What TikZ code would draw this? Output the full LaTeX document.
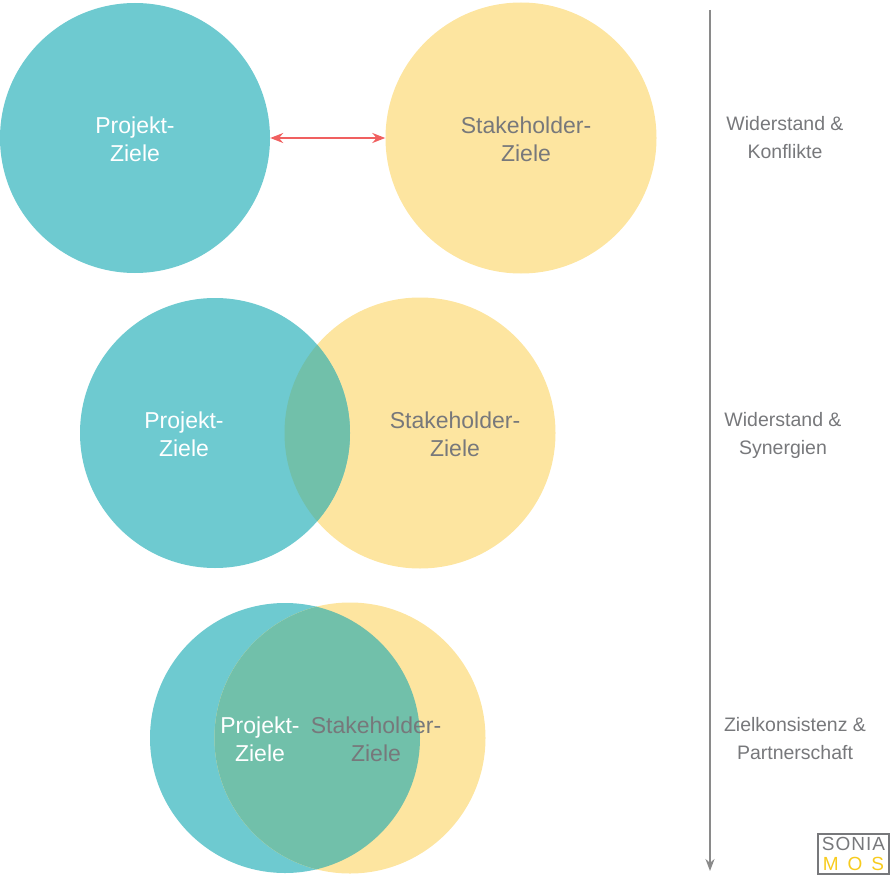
\documentclass[tikz,border=0pt]{standalone}
\usepackage{fontspec}
\setmainfont{Liberation Sans}
\usetikzlibrary{arrows.meta}
\definecolor{teal}{HTML}{6ECAD0}
\definecolor{sun}{HTML}{FDE5A0}
\definecolor{mix}{HTML}{71C0AA}
\definecolor{txtgray}{HTML}{77787B}
\definecolor{linegray}{HTML}{8A8A8A}
\definecolor{logoyellow}{HTML}{F7CB1E}
\tikzset{
  proj/.style={circle, fill=teal, minimum size=270pt, inner sep=0pt},
  stake/.style={circle, fill=sun, minimum size=271pt, inner sep=0pt},
  ptext/.style={text=white, align=center, font=\fontsize{23}{28}\selectfont},
  stext/.style={text=txtgray, align=center, font=\fontsize{23}{28}\selectfont},
  side/.style={text=txtgray, align=center, font=\fontsize{19.5}{28}\selectfont}
}
\begin{document}
\begin{tikzpicture}[x=1pt, y=-1pt]
  \useasboundingbox (0,0) rectangle (891,880);
  % row 1
  \node (P1) [proj] at (135,138) {};
  \node (S1) [stake] at (521,138) {};
  \node [ptext] at (135,139) {Projekt-\\Ziele};
  \node [stext] at (526,139) {Stakeholder-\\Ziele};
  \draw [{Stealth[length=13pt,width=10pt]}-{Stealth[length=13pt,width=10pt]}, draw={rgb,255:red,240;green,96;blue,96}, line width=2pt] (P1.east) -- (S1.west);
  % row 2
  \node (S2) [stake] at (420,433) {};
  \node (P2) [proj] at (215,433) {};
  \begin{scope}
    \clip (420,433) circle (135.5);
    \fill [mix] (215,433) circle (135);
  \end{scope}
  \node [ptext] at (184,434) {Projekt-\\Ziele};
  \node [stext] at (455,434) {Stakeholder-\\Ziele};
  % row 3
  \node (P3) [proj] at (285,738) {};
  \node (S3) [stake] at (350,738) {};
  \begin{scope}
    \clip (350,738) circle (135.5);
    \fill [mix] (285,738) circle (135);
  \end{scope}
  \node [ptext] at (260,739) {Projekt-\\Ziele};
  \node [stext] at (376,739) {Stakeholder-\\Ziele};
  % scale
  \coordinate (top) at (710,10);
  \coordinate (bottom) at (710,871);
  \draw [linegray, line width=2pt, -{Stealth[length=12pt,width=9pt]}] (top) -- (bottom);
  \node [side] at (785,138) {Widerstand \&\\Konflikte};
  \node [side] at (783,435) {Widerstand \&\\Synergien};
  \node [side] at (795,739) {Zielkonsistenz \&\\Partnerschaft};
  % logo
  \node (logo) [draw=txtgray, line width=1.2pt, minimum width=71pt, minimum height=40pt, inner sep=0pt] at (853.5,854) {};
  \node [text=txtgray, font=\fontsize{19}{19}\selectfont] at (853.5,844) {S\kern1pt O\kern1pt N\kern1pt I\kern1pt A};
  \node [text=logoyellow, font=\fontsize{19}{19}\selectfont] at (853.5,864) {M\kern9pt O\kern9pt S};
\end{tikzpicture}
\end{document}
